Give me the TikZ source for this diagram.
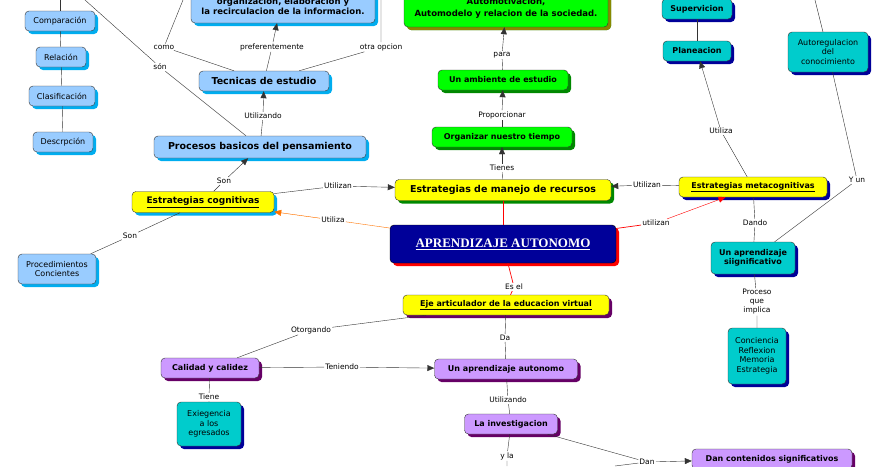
\documentclass[tikz,border=0pt]{standalone}
\usepackage{fontspec}
\setmainfont{DejaVu Sans}
\usetikzlibrary{shadows,arrows.meta}
\definecolor{lb}{HTML}{99CCFF}
\definecolor{gr}{HTML}{00FF00}
\definecolor{ye}{HTML}{FFFF00}
\definecolor{cy}{HTML}{00CCCC}
\definecolor{pu}{HTML}{CC99FF}
\definecolor{dpu}{HTML}{660066}
\definecolor{dgr}{HTML}{008800}
\definecolor{ol}{HTML}{888800}
\definecolor{db}{HTML}{000099}
\definecolor{rr}{HTML}{FF0000}
\tikzset{
 box/.style={draw=black!80,rounded corners=4pt,align=center,inner sep=2pt,font=\fontsize{8}{9.5}\selectfont\bfseries},
 sh/.style={general shadow={fill=#1,shadow xshift=3pt,shadow yshift=-3pt}},
 blue/.style={box,fill=lb,sh=cyan,font=\fontsize{8}{9.5}\selectfont},
 green/.style={box,fill=gr,sh=dgr},
 yel/.style={box,fill=ye},
 cyan/.style={box,fill=cy,sh=db},
 purp/.style={box,fill=pu,sh=dpu},
 lab/.style={fill=white,inner sep=1pt,font=\fontsize{7.5}{9}\selectfont,align=center},
 ln/.style={draw=black!80,thin},
 rl/.style={draw=rr,line width=0.7pt},
 ar/.style={ln,-{Triangle[length=7pt,width=6pt]}},
}
\begin{document}
\begin{tikzpicture}[x=1pt,y=-1pt]
\useasboundingbox (0,0) rectangle (888,466);
% nodes
\node[blue,font=\fontsize{8.5}{10}\selectfont\bfseries,minimum width=184,minimum height=34] (info) at (283,6) {organizacion, elaboracion y\\la recirculacion de la informacion.};
\node[green,sh=ol,font=\fontsize{8.5}{11.5}\selectfont\bfseries,minimum width=204,minimum height=38] (moti) at (506,8) {Automotivacion,\\Automodelo y relacion de la sociedad.};
\node[blue,minimum width=70,minimum height=20] (comp) at (60,21) {Comparación};
\node[blue,minimum width=50,minimum height=20] (rel) at (61,57) {Relación};
\node[blue,minimum width=66,minimum height=20] (clas) at (62,96) {Clasificación};
\node[blue,minimum width=60,minimum height=20] (desc) at (63,142) {Descrpción};
\node[blue,font=\fontsize{9.5}{10}\selectfont\bfseries,minimum width=130,minimum height=20] (tec) at (264,81) {Tecnicas de estudio};
\node[blue,font=\fontsize{9.5}{10}\selectfont\bfseries,minimum width=212,minimum height=22] (proc) at (260,147) {Procesos basicos del pensamiento};
\node[yel,sh=cyan,font=\fontsize{9}{10}\selectfont\bfseries,minimum width=142,minimum height=21] (cog) at (203,202) {\underline{Estrategias cognitivas}};
\node[blue,minimum width=78,minimum height=30] (pc) at (57,269) {Procedimientos\\Concientes};
\node[yel,sh=dgr,font=\fontsize{9.5}{10}\selectfont\bfseries,minimum width=216,minimum height=21] (man) at (503,190) {Estrategias de manejo de recursos};
\node[box,fill=db,draw=black,sh=red,text=white,font=\fontsize{13}{14}\selectfont\rmfamily\setmainfont{Liberation Serif}\bfseries,minimum width=226,minimum height=38] (aa) at (503,244) {\underline{APRENDIZAJE AUTONOMO}};
\node[green,minimum width=140,minimum height=20] (org) at (502,137) {Organizar nuestro tiempo};
\node[green,minimum width=130,minimum height=20] (amb) at (503,80) {Un ambiente de estudio};
\node[cyan,minimum width=70,minimum height=20] (sup) at (697,9) {Supervicion};
\node[cyan,minimum width=68,minimum height=20] (pla) at (697,51) {Planeacion};
\node[cyan,font=\fontsize{8}{9.5}\selectfont,minimum width=80,minimum height=40] (auto) at (828,52) {Autoregulacion\\del\\conocimiento};
\node[yel,sh=db,minimum width=148,minimum height=20] (meta) at (753,187) {\underline{Estrategias metacognitivas}};
\node[cyan,minimum width=84,minimum height=32] (sig) at (753,258) {Un aprendizaje\\siignificativo};
\node[cyan,font=\fontsize{8}{9.5}\selectfont,minimum width=58,minimum height=56] (conc) at (757,356) {Conciencia\\Reflexion\\Memoria\\Estrategia};
\node[yel,sh=dpu,minimum width=206,minimum height=20] (eje) at (506,305) {\underline{Eje articulador de la educacion virtual}};
\node[purp,minimum width=98,minimum height=20] (cal) at (210,368) {Calidad y calidez};
\node[purp,minimum width=143,minimum height=20] (uaa) at (506,369) {Un aprendizaje autonomo};
\node[cyan,font=\fontsize{8}{9.5}\selectfont,minimum width=64,minimum height=44] (exi) at (209,424) {Exiegencia\\a los\\egresados};
\node[purp,minimum width=93,minimum height=20] (inv) at (511,424) {La investigacion};
\node[purp,minimum width=160,minimum height=20] (dan) at (772,459) {Dan contenidos significativos};
% free ends
\coordinate (c1) at (60,0); \coordinate (c2) at (85,0); \coordinate (c3) at (183,0);
\coordinate (c4) at (381,0); \coordinate (c5) at (815,0); \coordinate (c6) at (507,466);
\coordinate (c7) at (615,466);
% labels
\node[lab] (lson1) at (160,67) {són};
\node[lab] (lcomo) at (164,47) {como};
\node[lab] (lpref) at (272,47) {preferentemente};
\node[lab] (lotra) at (381,47) {otra opcion};
\node[lab] (lutil1) at (263,116) {Utilizando};
\node[lab] (lson2) at (224,181) {Son};
\node[lab] (lson3) at (130,236) {Son};
\node[lab] (lutz1) at (338,186) {Utilizan};
\node[lab] (lutza) at (333,220) {Utiliza};
\node[lab] (lutz2) at (656,223) {utilizan};
\node[lab] (lutz3) at (647,185) {Utilizan};
\node[lab] (ltie) at (502,168) {Tienes};
\node[lab] (lpro) at (502,115) {Proporcionar};
\node[lab] (lpara) at (502,55) {para};
\node[lab] (lutzb) at (721,131) {Utiliza};
\node[lab] (lyun) at (857,180) {Y un};
\node[lab] (ldando) at (755,223) {Dando};
\node[lab] (lproc) at (757,302) {Proceso\\que\\implica};
\node[lab] (lesel) at (514,287) {Es el};
\node[lab] (lotor) at (311,330) {Otorgando};
\node[lab] (lda) at (505,338) {Da};
\node[lab] (lten) at (342,367) {Teniendo};
\node[lab] (ltiene) at (209,397) {Tiene};
\node[lab] (lutil2) at (508,400) {Utilizando};
\node[lab] (lyla) at (507,456) {y la};
\node[lab] (ldan) at (647,462) {Dan};
% connectors
\draw[ln] (comp) -- (c1);
\draw[ln] (comp) -- (rel); \draw[ln] (rel) -- (clas); \draw[ln] (clas) -- (desc);
\draw[ln] (c2) -- (lson1) -- (proc.north west -| 246,0);
\draw[ln] (tec) -- (lcomo) -- (c3);
\draw[ln] (tec) -- (lpref); \draw[ar] (lpref) -- (info.south -| 277,0);
\draw[ln] (tec) -- (lotra) -- (c4);
\draw[ln] (proc) -- (lutil1); \draw[ar] (lutil1) -- (tec);
\draw[ln] (cog) -- (lson2); \draw[ar] (lson2) -- (proc);
\draw[ln] (cog) -- (lson3) -- (pc);
\draw[ln] (cog) -- (lutz1); \draw[ar] (lutz1) -- (man);
\draw[draw=orange!90!red] (aa) -- (lutza); \draw[ar,draw=orange!90!red,fill=orange!90!red] (lutza) -- (cog);
\draw[rl] (aa.north) -- (man.south);
\draw[rl] (aa) -- (lutz2); \draw[ar,draw=rr] (lutz2) -- (meta);
\draw[ln] (meta) -- (lutz3); \draw[ar] (lutz3) -- (man);
\draw[ln] (man) -- (ltie); \draw[ar] (ltie) -- (org);
\draw[ln] (org) -- (lpro); \draw[ar] (lpro) -- (amb);
\draw[ln] (amb) -- (lpara); \draw[ar] (lpara) -- (moti);
\draw[ln] (meta) -- (lutzb); \draw[ar] (lutzb) -- (pla);
\draw[ln] (pla) -- (sup);
\draw[ln] (auto) -- (c5);
\draw[ln] (sig) -- (lyun) -- (auto);
\draw[ln] (meta) -- (ldando) -- (sig);
\draw[ln] (sig) -- (lproc) -- (conc);
\draw[rl] (aa) -- (lesel) -- (eje);
\draw[ln] (eje) -- (lotor) -- (cal);
\draw[ln] (eje) -- (lda) -- (uaa);
\draw[ln] (cal) -- (lten); \draw[ar] (lten) -- (uaa);
\draw[ln] (cal) -- (ltiene) -- (exi);
\draw[ln] (uaa) -- (lutil2) -- (inv);
\draw[ln] (inv) -- (lyla) -- (c6);
\draw[ln] (inv) -- (ldan); \draw[ln] (c7) -- (ldan); \draw[ar] (ldan) -- (dan);
\end{tikzpicture}
\end{document}
